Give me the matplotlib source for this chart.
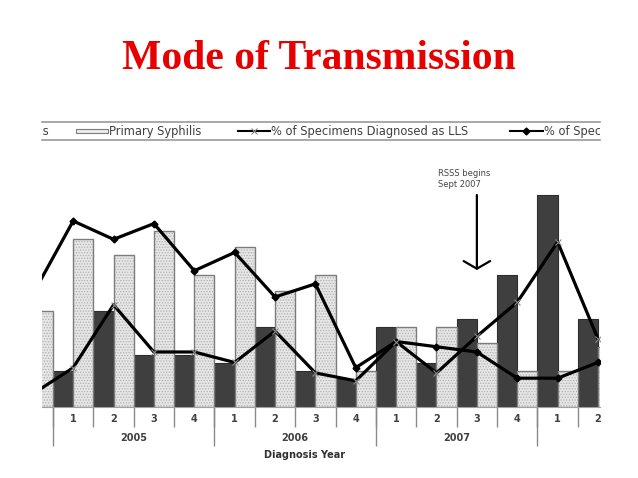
import numpy as np
import matplotlib
matplotlib.use('Agg')
import matplotlib.pyplot as plt
import matplotlib.transforms as mtransforms
from matplotlib.patches import Rectangle

# data (2004 Q4 .. 2008 Q2, first/last quarters cut off)
years = [2004, 2005, 2005, 2005, 2005, 2006, 2006, 2006, 2006,
         2007, 2007, 2007, 2007, 2008, 2008]
quarters = ['4', '1', '2', '3', '4', '1', '2', '3', '4',
            '1', '2', '3', '4', '1', '2']
secondary = [10, 9, 24, 13, 13, 11, 20, 9, 7, 20, 11, 22, 33, 53, 22]
primary = [24, 42, 38, 44, 33, 40, 29, 33, 9, 20, 20, 16, 9, 9, 15]
pct_lls = [5, 15, 39, 21, 21, 17, 29, 13, 10, 25, 13, 27, 40, 63, 26]
pct_other = [43, 71, 64, 70, 52, 59, 42, 47, 15, 25, 23, 21, 11, 11, 17]

W, H = 638, 478
fig = plt.figure(figsize=(W / 100, H / 100), dpi=100)
fig.patch.set_facecolor('white')

def fx(px):
    return px / W

def fy(py):
    return 1 - py / H

# slide title
fig.text(0.5, fy(59), 'Mode of Transmission', ha='center', va='center',
         family='Liberation Serif', weight='bold', fontsize=30, color='#e60000')

plt.rcParams['hatch.linewidth'] = 0.6

# main chart area (the pasted picture runs from x=42 to x=600 px)
ax_left, ax_right, ax_base, ax_top = 42, 600, 407, 145
ax = fig.add_axes([fx(ax_left), fy(ax_base), fx(ax_right - ax_left),
                   (ax_base - ax_top) / H])
x = np.arange(len(quarters))
xmin, xmax = 0.228, 14.05
ax.set_xlim(xmin, xmax)
ax.set_ylim(0, 65.5)

ax.bar(x - 0.25, secondary, width=0.5, color='#3f3f3f', edgecolor='#2e2e2e',
       linewidth=0.8, zorder=2)
ax.bar(x + 0.25, primary, width=0.5, facecolor='#e6e6e6', hatch='......',
       edgecolor='#b0b0b0', linewidth=0, zorder=2)
ax.bar(x + 0.25, primary, width=0.5, fill=False, edgecolor='#7c7c7c',
       linewidth=1.0, zorder=2)

for s in ['top', 'left', 'right']:
    ax.spines[s].set_visible(False)
ax.spines['bottom'].set_color('#a0a0a0')
ax.spines['bottom'].set_linewidth(0.8)
ax.set_yticks([])
shown = [i for i in x if xmin < i < xmax + 0.1]
ax.set_xticks(shown, [quarters[i] for i in shown])
ax.tick_params(axis='x', length=0, pad=5, labelsize=7, labelcolor='#404040')
for lab in ax.get_xticklabels():
    lab.set_fontweight('bold')

# separators below the axis
trans = mtransforms.blended_transform_factory(ax.transData, ax.transAxes)
axh = ax_base - ax_top
bounds = x[:-1] + 0.5
year_starts = [b for b, y0, y1 in zip(bounds, years[:-1], years[1:]) if y0 != y1]
ax.vlines(bounds, 0, -20 / axh, transform=trans, colors='#8a8a8a',
          linewidth=1, clip_on=False)
ax.vlines(year_starts, 0, -39 / axh, transform=trans, colors='#8a8a8a',
          linewidth=1, clip_on=False)
for yr in sorted(set(years)):
    idx = [i for i, v in enumerate(years) if v == yr]
    if len(idx) < 4:
        continue
    ax.text(np.mean(idx), -31 / axh, str(yr), transform=trans, ha='center',
            va='center', fontsize=7, color='#404040', weight='bold')
fig.text(fx(305), fy(455), 'Diagnosis Year', ha='center', va='center',
         fontsize=7, color='#303030', weight='bold')

# percentage lines
ax2 = ax.twinx()
ax2.set_ylim(0, 100)
ax2.set_yticks([])
for s in ax2.spines.values():
    s.set_visible(False)
ax2.plot(x, pct_other, color='black', linewidth=2.3, marker='D',
         markersize=3.5, zorder=3)
ax2.plot(x, pct_lls, color='black', linewidth=2.3, marker='x',
         markersize=5, markeredgecolor='#8c8c8c', markeredgewidth=0.8,
         zorder=3)

# RSSS annotation
ax.annotate('', xy=(11, 34.25), xytext=(11, 53),
            arrowprops=dict(arrowstyle='->,head_length=0.55,head_width=0.95',
                            color='black', lw=1.6, shrinkA=0, shrinkB=0))
ax.text(10.03, 57, 'RSSS begins\nSept 2007', fontsize=6, color='#454545',
        va='center', ha='left', linespacing=1.15)

# legend strip (cut off on both sides like the pasted picture)
lax = fig.add_axes([fx(ax_left), fy(140), fx(ax_right - ax_left), 18 / H])
lax.set_xlim(ax_left, ax_right)
lax.set_ylim(0, 1)
lax.axis('off')
lax.plot([ax_left, ax_right], [1, 1], color='#9a9a9a', lw=1.2, clip_on=False)
lax.plot([ax_left, ax_right], [0, 0], color='#9a9a9a', lw=1.2, clip_on=False)
lkw = dict(fontsize=8.3, color='#404040', va='center', clip_on=True)
lax.text(49, 0.5, 'Secondary Syphilis', ha='right', **lkw)
lax.add_patch(Rectangle((76, 0.39), 32, 0.22, facecolor='#ececec',
                        edgecolor='#7c7c7c', lw=0.8))
lax.text(109, 0.5, 'Primary Syphilis', ha='left', **lkw)
lax.plot([238, 270], [0.5, 0.5], color='black', lw=1.5)
lax.plot([254], [0.5], marker='x', ms=5, mec='#8c8c8c', mew=0.8)
lax.text(271, 0.5, '% of Specimens Diagnosed as LLS', ha='left', **lkw)
lax.plot([510, 543], [0.5, 0.5], color='black', lw=1.5)
lax.plot([526], [0.5], marker='D', ms=3.5, color='black')
lax.text(544, 0.5, '% of Specimens from MSM', ha='left', **lkw)

fig.savefig('out.png', dpi=100)
